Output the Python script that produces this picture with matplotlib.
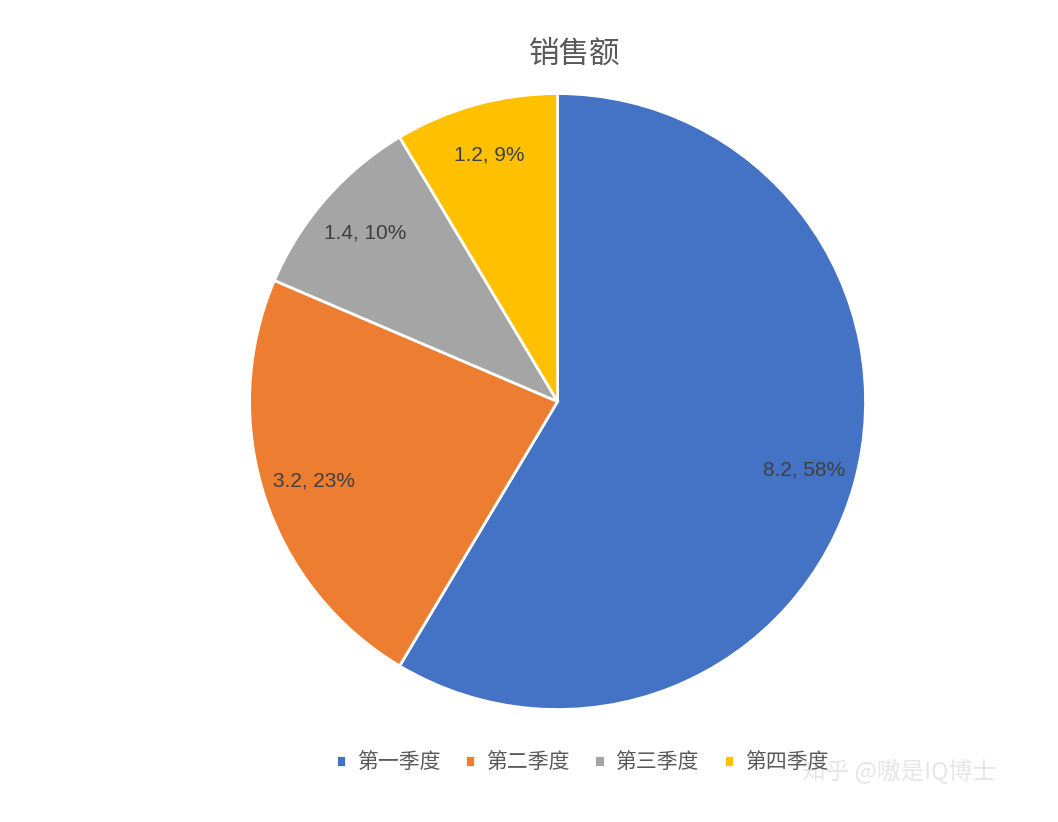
import matplotlib
matplotlib.use("Agg")
import matplotlib.pyplot as plt
import numpy as np

plt.rcParams['font.family'] = ['Noto Sans CJK SC', 'DejaVu Sans']

categories = ['第一季度', '第二季度', '第三季度', '第四季度']
values = [8.2, 3.2, 1.4, 1.2]
pct_labels = ['58%', '23%', '10%', '9%']
colors = ['#4472C4', '#ED7D31', '#A5A5A5', '#FFC000']

fig = plt.figure(figsize=(10.58, 8.22), dpi=100)
ax = fig.add_axes([0.233, 0.133, 0.588, 0.757])
wedges, texts = ax.pie(values, colors=colors, startangle=90, counterclock=False,
                       wedgeprops=dict(edgecolor='white', linewidth=2))
ax.set_xlim(-1.01, 1.01)
ax.set_ylim(-1.01, 1.01)
for w, v, p in zip(wedges, values, pct_labels):
    ang = np.deg2rad((w.theta1 + w.theta2) / 2)
    r = 0.83
    ax.text(r * np.cos(ang), r * np.sin(ang), f"{v}, {p}",
            ha='center', va='center', fontsize=15, color='#404040', family=['Liberation Sans'])
ax.set_aspect('equal')
fig.text(0.543, 0.933, '销售额', ha='center', va='center', fontsize=22, color='#595959')
fig.legend(wedges, categories, loc='center', bbox_to_anchor=(0.55, 0.073), ncol=4,
           frameon=False, fontsize=15, handlelength=0.5, handleheight=0.5,
           columnspacing=1.2, handletextpad=0.5, labelcolor='#595959')
fig.text(0.85, 0.062, '知乎 @嗷是IQ博士', ha='center', va='center', fontsize=17,
         color='#e6e6e6')
fig.savefig('out.png', dpi=100)
